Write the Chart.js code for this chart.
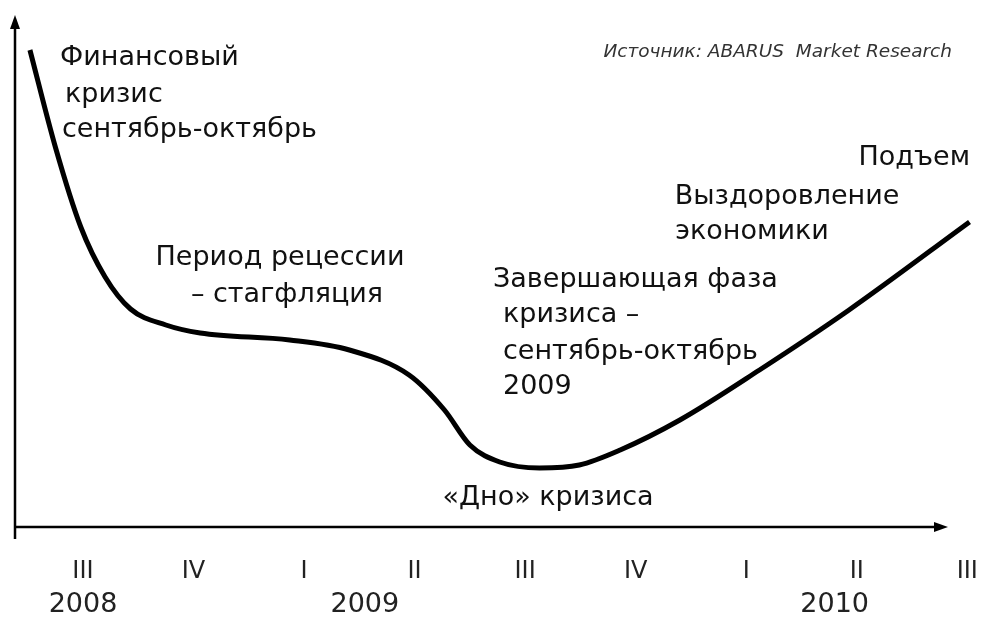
<!DOCTYPE html>
<html><head><meta charset="utf-8">
<script src="https://cdn.jsdelivr.net/npm/chart.js@4"></script>
<style>html,body{margin:0;background:#fff}#w{width:990px;height:632px}</style>
</head><body><div id="w"><canvas id="c"></canvas></div>
<script>
// x in quarters: 0 = III 2008 ... 8 = III 2010; y = relative level
const curveX = [-0.48,-0.25,-0.02,0.2,0.43,0.75,1.06,1.87,2.41,2.95,3.27,3.5,3.77,4.13,4.49,4.86,5.4,6.12,6.93,8.02];
const curveY = [477,380,300,250,218,202,194,187,177,152,117,82,65,59,62,77,107,157,217,305];
const quarterLabels = ['III','IV','I','II','III','IV','I','II','III'];
const yearLabels = ['2008','2009','2010'];
const yearPos = [0,2.55,6.8];

const deco = {
  id:'deco',
  afterDraw(ch){
    const c=ch.ctx, xs=ch.scales.x, ys=ch.scales.y, a=ch.chartArea;
    c.save();
    c.strokeStyle='#000'; c.fillStyle='#000'; c.lineWidth=2.5;
    const x0=a.left, y0=ys.getPixelForValue(0);
    c.beginPath(); c.moveTo(x0,y0+12); c.lineTo(x0,a.top+6); c.stroke();
    c.beginPath(); c.moveTo(x0,a.top); c.lineTo(x0-5,a.top+14); c.lineTo(x0+5,a.top+14); c.closePath(); c.fill();
    const xe=948;
    c.beginPath(); c.moveTo(x0,y0); c.lineTo(xe-8,y0); c.stroke();
    c.beginPath(); c.moveTo(xe,y0); c.lineTo(xe-14,y0-5); c.lineTo(xe-14,y0+5); c.closePath(); c.fill();
    c.textAlign='center'; c.textBaseline='middle';
    c.font='24px "DejaVu Sans"'; c.fillStyle='#222';
    quarterLabels.forEach((l,i)=>c.fillText(l,xs.getPixelForValue(i),572));
    c.font='27px "DejaVu Sans"';
    yearLabels.forEach((l,i)=>c.fillText(l,xs.getPixelForValue(yearPos[i]),605));
    const T=(t,x,y,al)=>{c.textAlign=al;c.fillText(t,x,y);};
    c.font='27px "DejaVu Sans"'; c.fillStyle='#111';
    T('Финансовый',60,58,'left');T('кризис',65,95,'left');T('сентябрь-октябрь',62,130,'left');
    T('Период рецессии',280,258,'center');T('– стагфляция',287,295,'center');
    T('Завершающая фаза',493,280,'left');T('кризиса –',503,315,'left');T('сентябрь-октябрь',503,352,'left');T('2009',503,387,'left');
    T('«Дно» кризиса',548,498,'center');
    T('Подъем',970,158,'right');T('Выздоровление',787,197,'center');T('экономики',752,232,'center');
    c.font='italic 18.5px "DejaVu Sans"'; c.fillStyle='#333';
    T('Источник: ABARUS  Market Research',952,52,'right');
    c.restore();
  }
};

new Chart(document.getElementById('c'),{
  type:'line',
  data:{datasets:[{data:curveX.map((x,i)=>({x,y:curveY[i]})),borderColor:'#000',borderWidth:5,pointRadius:0,cubicInterpolationMode:'monotone',fill:false}]},
  options:{responsive:true,maintainAspectRatio:false,animation:false,
    layout:{padding:{left:15,right:5,top:15,bottom:105}},
    plugins:{legend:{display:false},tooltip:{enabled:false}},
    scales:{x:{type:'linear',display:false,min:-0.615,max:8.16},y:{display:false,min:0,max:512}}},
  plugins:[deco]
});
</script></body></html>
